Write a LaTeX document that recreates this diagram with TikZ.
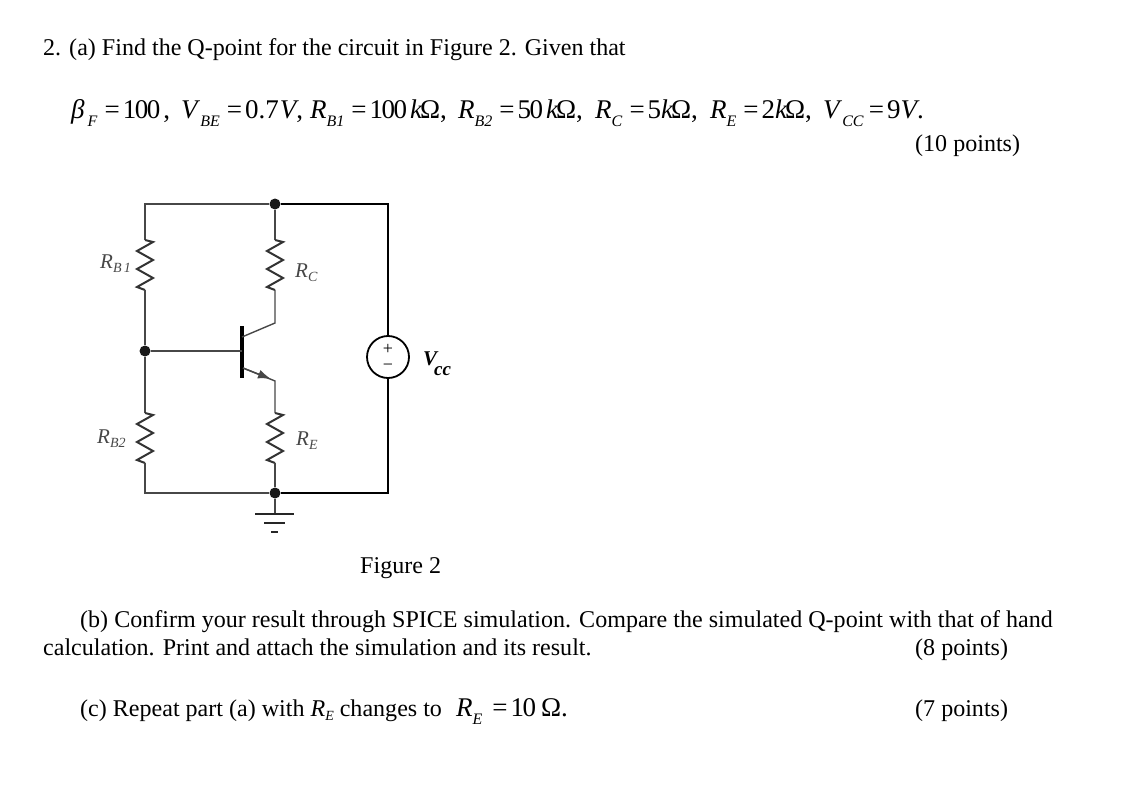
\documentclass[tikz,border=0pt]{standalone}
\usepackage{fontspec}
\setmainfont{Liberation Serif}
\usetikzlibrary{arrows.meta}
\newcommand{\eqsub}[2]{\textit{#1}\raisebox{-8pt}{\fontsize{16}{16}\selectfont\textit{#2}}}
\newcommand{\lblsub}[2]{\textit{#1}\raisebox{-4pt}{\fontsize{14}{14}\selectfont\textit{#2}}}
\newcommand{\tight}{\kern-1.5pt}
\newcommand{\eqq}{\kern7pt=\kern3pt}
\tikzset{
	wire/.style = {line width=1.4pt, draw=black!72},
	rail/.style = {line width=2pt, draw=black},
	resistor/.style = {line width=2pt, draw=black!80, to path={-- ++(8,2) -- ++(-16,9) -- ++(16,9) -- ++(-16,9) -- ++(16,9) -- ++(-16,9) -- (\tikztotarget)}},
	joint/.style = {circle, fill=black!90, inner sep=0pt, minimum size=11pt},
	para/.style = {anchor=base west, inner sep=0pt, font=\fontsize{24.05}{28}\selectfont},
	eqn/.style = {anchor=base west, inner sep=0pt, font=\fontsize{27}{28}\selectfont},
	lbl/.style = {anchor=base west, inner sep=0pt, text=black!72, font=\fontsize{21}{24}\selectfont},
	gndbar/.style = {line width=2.4pt, draw=black!85},
}
\begin{document}
\begin{tikzpicture}[x=1pt,y=-1pt]
	\useasboundingbox (0,0) rectangle (1122,808);

	% text of the question
	\node [para] (parta) at (43,56) {2. (a) Find the Q-point for the circuit in Figure 2. Given that};
	\node [eqn] (eqbeta) at (71,118) {\textit{β}\kern3pt\raisebox{-8pt}{\fontsize{16}{16}\selectfont\textit{F}}\eqq 1\tight0\tight0\kern3pt,};
	\node [eqn] (eqvbe) at (181,118) {\eqsub{V}{BE}\eqq 0.7\kern1pt\textit{V},};
	\node [eqn] (eqrbone) at (310,118) {\eqsub{R}{B1}\eqq 1\tight0\tight0\kern3pt\textit{k}\kern-2.5ptΩ,};
	\node [eqn] (eqrbtwo) at (458,118) {\eqsub{R}{B2}\eqq 5\tight0\kern3pt\textit{k}\kern-2.5ptΩ,};
	\node [eqn] (eqrc) at (595,118) {\eqsub{R}{C}\eqq 5\textit{k}\kern-2.5ptΩ,};
	\node [eqn] (eqre) at (710,118) {\eqsub{R}{E}\eqq 2\textit{k}\kern-2.5ptΩ,};
	\node [eqn] (eqvcc) at (823,118) {\eqsub{V}{CC}\kern-2pt\eqq 9\textit{V}.};
	\node [para] (ptsa) at (915,151) {(10 points)};
	\node [para] (figcap) at (360,573) {Figure 2};
	\node [para] (partb) at (80,627) {(b) Confirm your result through SPICE simulation. Compare the simulated Q-point with that of hand};
	\node [para] (partbb) at (43,655) {calculation. Print and attach the simulation and its result.};
	\node [para] (ptsb) at (915,655) {(8 points)};
	\node [para] (partc) at (80,716) {(c) Repeat part (a) with \lblsub{R}{E} changes to};
	\node [eqn] (eqrenew) at (456,716) {\eqsub{R}{E}\kern3pt\eqq 1\tight0\kern5ptΩ.};
	\node [para] (ptsc) at (915,716) {(7 points)};

	% circuit
	\node [joint] (topj) at (275,204) {};
	\node [joint] (basej) at (145,351) {};
	\node [joint] (botj) at (275,493) {};
	\coordinate (topl) at (145,204);
	\coordinate (botl) at (145,493);
	\coordinate (topr) at (388,204);
	\coordinate (botr) at (388,493);
	\coordinate (rbonea) at (145,240);
	\coordinate (rboneb) at (145,290);
	\coordinate (rbtwoa) at (145,413);
	\coordinate (rbtwob) at (145,463);
	\coordinate (rca) at (275,240);
	\coordinate (rcb) at (275,290);
	\coordinate (rea) at (275,413);
	\coordinate (reb) at (275,463);

	\draw [wire] (topj) -- (topl) -- (rbonea);
	\draw [resistor] (rbonea) to (rboneb);
	\draw [wire] (rboneb) -- (basej) -- (rbtwoa);
	\draw [resistor] (rbtwoa) to (rbtwob);
	\draw [wire] (rbtwob) -- (botl) -- (botj);
	\draw [wire] (topj) -- (rca);
	\draw [resistor] (rca) to (rcb);
	\draw [resistor] (rea) to (reb);
	\draw [wire] (reb) -- (botj);

	% transistor
	\coordinate (bartop) at (242,326);
	\coordinate (barbot) at (242,378);
	\coordinate (barb) at (242,351);
	\coordinate (barc) at (242,337);
	\coordinate (bare) at (243,368);
	\coordinate (cknee) at (275,323);
	\coordinate (eknee) at (275,381);
	\coordinate (etip) at (271,379);
	\draw [line width=3.2pt] (bartop) -- (barbot);
	\draw [wire] (basej) -- (barb);
	\draw [wire] (rcb) -- (cknee) -- (barc);
	\draw [wire] (rea) -- (eknee) -- (bare);
	\draw [wire,-{Latex[length=13pt,width=9pt]}] (bare) -- (etip);

	% source and ground
	\node [circle, draw=black, line width=1.8pt, minimum size=42pt, inner sep=0pt] (vcc) at (388,357) {};
	\node [inner sep=0pt, font=\fontsize{18}{18}\selectfont] (vplus) at (388,349) {+};
	\node [inner sep=0pt, font=\fontsize{18}{18}\selectfont] (vminus) at (388,367) {\textminus};
	\draw [rail] (topj) -- (topr) -- (vcc);
	\draw [rail] (vcc) -- (botr) -- (botj);
	\node [lbl, text=black, font=\fontsize{21}{24}\selectfont\bfseries\itshape] (vcclbl) at (423,365) {V\kern-3pt\raisebox{-10pt}{\fontsize{19}{19}\selectfont cc}};
	\coordinate (gnd) at (275,514);
	\coordinate (gndal) at (255,514);
	\coordinate (gndar) at (294,514);
	\coordinate (gndbl) at (264,523);
	\coordinate (gndbr) at (285,523);
	\coordinate (gndcl) at (271,532);
	\coordinate (gndcr) at (278,532);
	\draw [wire] (botj) -- (gnd);
	\draw [gndbar] (gndal) -- (gndar);
	\draw [gndbar] (gndbl) -- (gndbr);
	\draw [gndbar] (gndcl) -- (gndcr);

	\node [lbl] (rbonelbl) at (100,268) {\lblsub{R}{B\,1}};
	\node [lbl] (rclbl) at (295,277) {\lblsub{R}{C}};
	\node [lbl] (rbtwolbl) at (97,443) {\lblsub{R}{B2}};
	\node [lbl] (relbl) at (296,445) {\lblsub{R}{E}};
\end{tikzpicture}
\end{document}
